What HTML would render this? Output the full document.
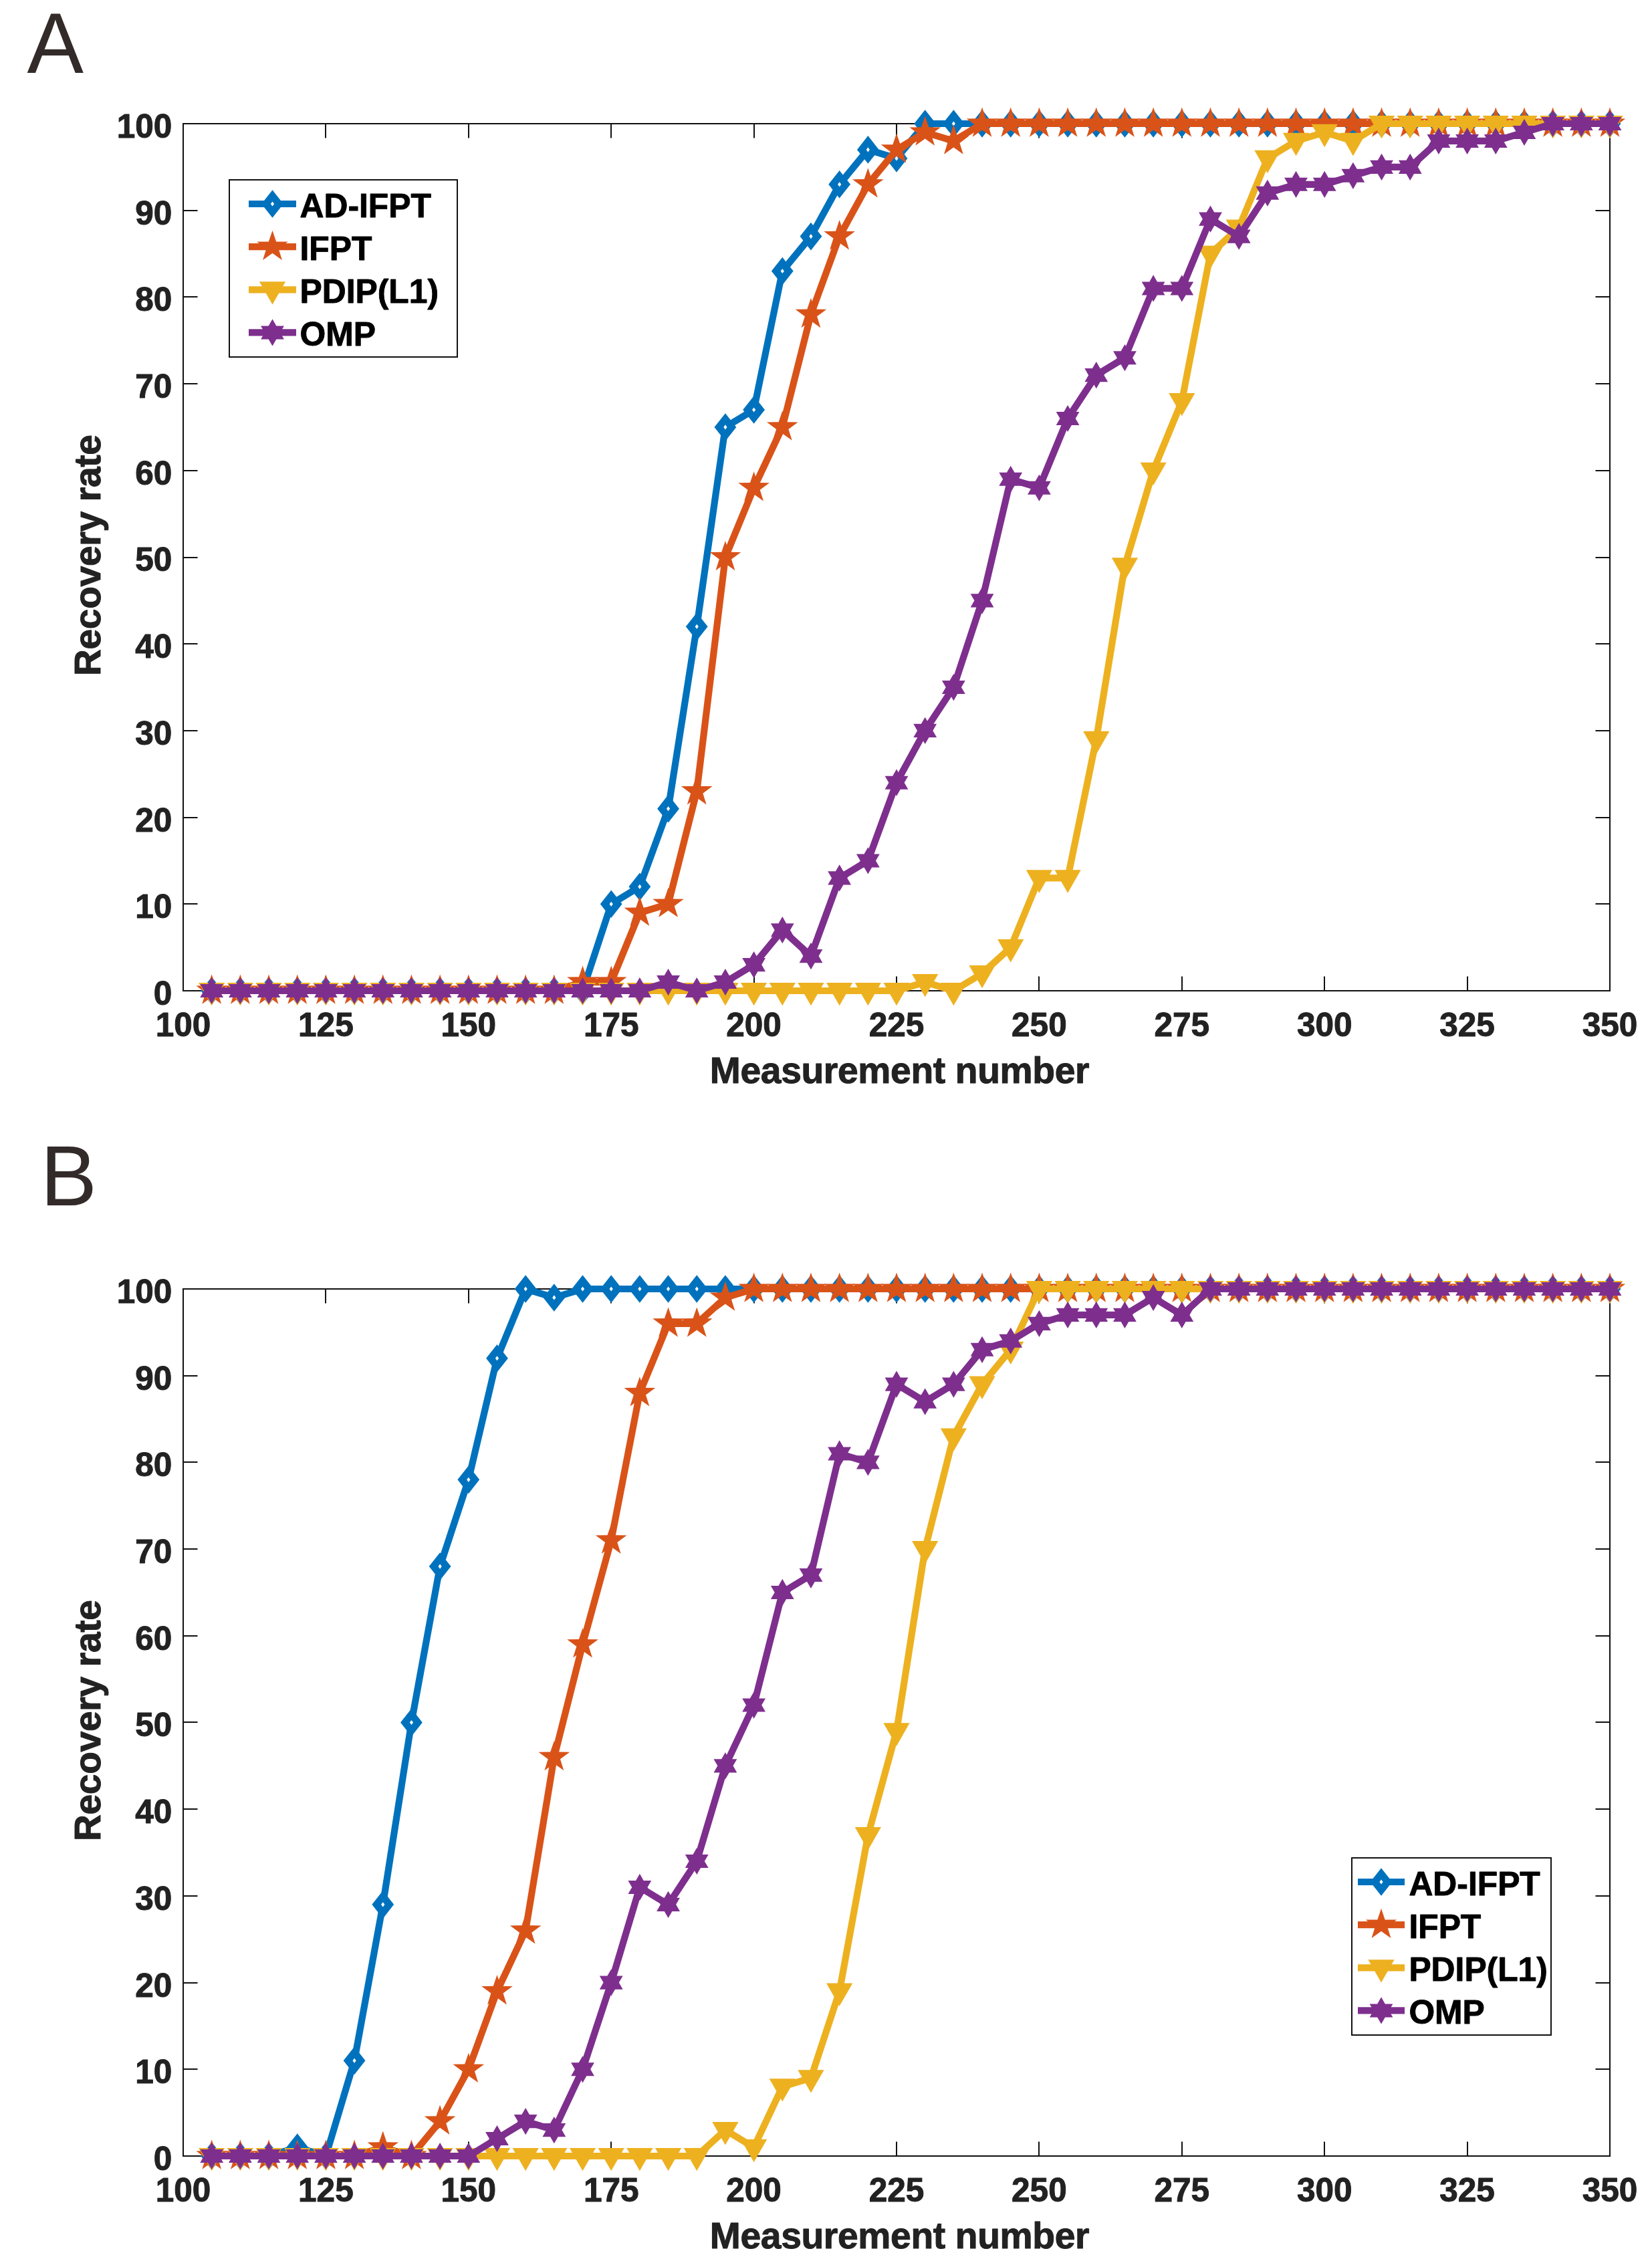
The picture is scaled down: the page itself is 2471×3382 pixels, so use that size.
<!DOCTYPE html>
<html lang="en"><head><meta charset="utf-8"><title>Recovery rate vs measurement number</title>
<style>html,body{margin:0;padding:0;background:#fff}svg{display:block}text{font-family:"Liberation Sans",Arial,Helvetica,sans-serif}.t{font-weight:bold;font-size:49.5px;fill:#222222;stroke:#222222;stroke-width:1px;stroke-linejoin:round}.l{font-weight:bold;font-size:55.2px;letter-spacing:-0.34px;fill:#222222;stroke:#222222;stroke-width:1px;stroke-linejoin:round}.s{fill:none;stroke-width:10.2px;stroke-linejoin:miter;stroke-linecap:butt}.g{font-weight:bold;font-size:49.8px;fill:#000;stroke:#000;stroke-width:0.9px;stroke-linejoin:round}.p{font-size:128.7px;fill:#332b29}</style></head><body>
<svg width="2471" height="3382" viewBox="0 0 2471 3382">
<rect width="2471" height="3382" fill="#fff"/>
<defs>
<marker id="mb" markerUnits="userSpaceOnUse" markerWidth="60" markerHeight="60" viewBox="-30 -30 60 60" refX="0" refY="0" orient="0" overflow="visible"><path d="M0 -20.8 L16.4 0 L0 20.8 L-16.4 0 Z" fill="#0072BD"/><path d="M0 -3.6 L2.6 0 L0 3.6 L-2.6 0 Z" fill="#fff"/></marker>
<marker id="mo" markerUnits="userSpaceOnUse" markerWidth="60" markerHeight="60" viewBox="-30 -30 60 60" refX="0" refY="0" orient="0" overflow="visible"><path d="M0 -24.5L5.64 -7.77L23.3 -7.57L9.13 2.97L14.4 19.82L0 9.6L-14.4 19.82L-9.13 2.97L-23.3 -7.57L-5.64 -7.77Z" fill="#D95319"/></marker>
<marker id="my" markerUnits="userSpaceOnUse" markerWidth="60" markerHeight="60" viewBox="-30 -30 60 60" refX="0" refY="0" orient="0" overflow="visible"><path d="M-19.6 -12.1 L19.6 -12.1 L0 22.3 Z" fill="#EDB120"/></marker>
<marker id="mp" markerUnits="userSpaceOnUse" markerWidth="60" markerHeight="60" viewBox="-30 -30 60 60" refX="0" refY="0" orient="0" overflow="visible"><path d="M0 -20.1L5.8 -10.05L17.41 -10.05L11.6 0L17.41 10.05L5.8 10.05L0 20.1L-5.8 10.05L-17.41 10.05L-11.6 0L-17.41 -10.05L-5.8 -10.05Z" fill="#7E2F8E"/></marker>
</defs>
<text class="p" transform="translate(40.6 109) scale(0.985 1)">A</text>
<path d="M487 1482 v-21.5 M487 185 v21.5 M701 1482 v-21.5 M701 185 v21.5 M914 1482 v-21.5 M914 185 v21.5 M1128 1482 v-21.5 M1128 185 v21.5 M1341 1482 v-21.5 M1341 185 v21.5 M1554 1482 v-21.5 M1554 185 v21.5 M1768 1482 v-21.5 M1768 185 v21.5 M1981 1482 v-21.5 M1981 185 v21.5 M2195 1482 v-21.5 M2195 185 v21.5 M274 1352 h21.5 M2408 1352 h-21.5 M274 1223 h21.5 M2408 1223 h-21.5 M274 1093 h21.5 M2408 1093 h-21.5 M274 963 h21.5 M2408 963 h-21.5 M274 834 h21.5 M2408 834 h-21.5 M274 704 h21.5 M2408 704 h-21.5 M274 574 h21.5 M2408 574 h-21.5 M274 444 h21.5 M2408 444 h-21.5 M274 315 h21.5 M2408 315 h-21.5" stroke="#111111" stroke-width="2" fill="none"/>
<rect x="274" y="185" width="2134" height="1297" fill="none" stroke="#111111" stroke-width="2"/>
<text class="t" text-anchor="middle" x="274" y="1549.5">100</text>
<text class="t" text-anchor="middle" x="487.4" y="1549.5">125</text>
<text class="t" text-anchor="middle" x="700.8" y="1549.5">150</text>
<text class="t" text-anchor="middle" x="914.2" y="1549.5">175</text>
<text class="t" text-anchor="middle" x="1127.6" y="1549.5">200</text>
<text class="t" text-anchor="middle" x="1341" y="1549.5">225</text>
<text class="t" text-anchor="middle" x="1554.4" y="1549.5">250</text>
<text class="t" text-anchor="middle" x="1767.8" y="1549.5">275</text>
<text class="t" text-anchor="middle" x="1981.2" y="1549.5">300</text>
<text class="t" text-anchor="middle" x="2194.6" y="1549.5">325</text>
<text class="t" text-anchor="middle" x="2408" y="1549.5">350</text>
<text class="t" text-anchor="end" x="257.3" y="1502.9">0</text>
<text class="t" text-anchor="end" x="257.3" y="1373.2">10</text>
<text class="t" text-anchor="end" x="257.3" y="1243.5">20</text>
<text class="t" text-anchor="end" x="257.3" y="1113.8">30</text>
<text class="t" text-anchor="end" x="257.3" y="984.1">40</text>
<text class="t" text-anchor="end" x="257.3" y="854.4">50</text>
<text class="t" text-anchor="end" x="257.3" y="724.7">60</text>
<text class="t" text-anchor="end" x="257.3" y="595">70</text>
<text class="t" text-anchor="end" x="257.3" y="465.3">80</text>
<text class="t" text-anchor="end" x="257.3" y="335.6">90</text>
<text class="t" text-anchor="end" x="257.3" y="205.9">100</text>
<text class="l" text-anchor="middle" x="1345.5" y="1619.6">Measurement number</text>
<text class="l" text-anchor="middle" transform="translate(150.4 830.7) rotate(-90)">Recovery rate</text>
<polyline class="s" points="316.68,1482 359.36,1482 402.04,1482 444.72,1482 487.4,1482 530.08,1482 572.76,1482 615.44,1482 658.12,1482 700.8,1482 743.48,1482 786.16,1482 828.84,1482 871.52,1482 914.2,1352.3 956.88,1326.36 999.56,1209.63 1042.24,937.26 1084.92,638.95 1127.6,613.01 1170.28,405.49 1212.96,353.61 1255.64,275.79 1298.32,223.91 1341,236.88 1383.68,185 1426.36,185 1469.04,185 1511.72,185 1554.4,185 1597.08,185 1639.76,185 1682.44,185 1725.12,185 1767.8,185 1810.48,185 1853.16,185 1895.84,185 1938.52,185 1981.2,185 2023.88,185 2066.56,185 2109.24,185 2151.92,185 2194.6,185 2237.28,185 2279.96,185 2322.64,185 2365.32,185 2408,185" stroke="#0072BD" marker-start="url(#mb)" marker-mid="url(#mb)" marker-end="url(#mb)"/>
<polyline class="s" points="316.68,1482 359.36,1482 402.04,1482 444.72,1482 487.4,1482 530.08,1482 572.76,1482 615.44,1482 658.12,1482 700.8,1482 743.48,1482 786.16,1482 828.84,1482 871.52,1469.03 914.2,1469.03 956.88,1365.27 999.56,1352.3 1042.24,1183.69 1084.92,833.5 1127.6,729.74 1170.28,638.95 1212.96,470.34 1255.64,353.61 1298.32,275.79 1341,223.91 1383.68,197.97 1426.36,210.94 1469.04,185 1511.72,185 1554.4,185 1597.08,185 1639.76,185 1682.44,185 1725.12,185 1767.8,185 1810.48,185 1853.16,185 1895.84,185 1938.52,185 1981.2,185 2023.88,185 2066.56,185 2109.24,185 2151.92,185 2194.6,185 2237.28,185 2279.96,185 2322.64,185 2365.32,185 2408,185" stroke="#D95319" marker-start="url(#mo)" marker-mid="url(#mo)" marker-end="url(#mo)"/>
<polyline class="s" points="316.68,1482 359.36,1482 402.04,1482 444.72,1482 487.4,1482 530.08,1482 572.76,1482 615.44,1482 658.12,1482 700.8,1482 743.48,1482 786.16,1482 828.84,1482 871.52,1482 914.2,1482 956.88,1482 999.56,1482 1042.24,1482 1084.92,1482 1127.6,1482 1170.28,1482 1212.96,1482 1255.64,1482 1298.32,1482 1341,1482 1383.68,1469.03 1426.36,1482 1469.04,1456.06 1511.72,1417.15 1554.4,1313.39 1597.08,1313.39 1639.76,1105.87 1682.44,846.47 1725.12,703.8 1767.8,600.04 1810.48,379.55 1853.16,340.64 1895.84,236.88 1938.52,210.94 1981.2,197.97 2023.88,210.94 2066.56,185 2109.24,185 2151.92,185 2194.6,185 2237.28,185 2279.96,185 2322.64,185 2365.32,185 2408,185" stroke="#EDB120" marker-start="url(#my)" marker-mid="url(#my)" marker-end="url(#my)"/>
<polyline class="s" points="316.68,1482 359.36,1482 402.04,1482 444.72,1482 487.4,1482 530.08,1482 572.76,1482 615.44,1482 658.12,1482 700.8,1482 743.48,1482 786.16,1482 828.84,1482 871.52,1482 914.2,1482 956.88,1482 999.56,1469.03 1042.24,1482 1084.92,1469.03 1127.6,1443.09 1170.28,1391.21 1212.96,1430.12 1255.64,1313.39 1298.32,1287.45 1341,1170.72 1383.68,1092.9 1426.36,1028.05 1469.04,898.35 1511.72,716.77 1554.4,729.74 1597.08,625.98 1639.76,561.13 1682.44,535.19 1725.12,431.43 1767.8,431.43 1810.48,327.67 1853.16,353.61 1895.84,288.76 1938.52,275.79 1981.2,275.79 2023.88,262.82 2066.56,249.85 2109.24,249.85 2151.92,210.94 2194.6,210.94 2237.28,210.94 2279.96,197.97 2322.64,185 2365.32,185 2408,185" stroke="#7E2F8E" marker-start="url(#mp)" marker-mid="url(#mp)" marker-end="url(#mp)"/>
<rect x="343" y="269" width="341" height="265" fill="#fff" stroke="#111111" stroke-width="2"/>
<polyline class="s" points="372,305 407.5,305 443,305" stroke="#0072BD" marker-mid="url(#mb)"/>
<text class="g" x="448.5" y="324.9">AD-IFPT</text>
<polyline class="s" points="372,369.15 407.5,369.15 443,369.15" stroke="#D95319" marker-mid="url(#mo)"/>
<text class="g" x="448.5" y="389.05">IFPT</text>
<polyline class="s" points="372,433.3 407.5,433.3 443,433.3" stroke="#EDB120" marker-mid="url(#my)"/>
<text class="g" x="448.5" y="453.2">PDIP(L1)</text>
<polyline class="s" points="372,497.45 407.5,497.45 443,497.45" stroke="#7E2F8E" marker-mid="url(#mp)"/>
<text class="g" x="448.5" y="517.35">OMP</text>
<text class="p" transform="translate(60.4 1803.3) scale(0.985 1)">B</text>
<path d="M487 3225 v-21.5 M487 1928 v21.5 M701 3225 v-21.5 M701 1928 v21.5 M914 3225 v-21.5 M914 1928 v21.5 M1128 3225 v-21.5 M1128 1928 v21.5 M1341 3225 v-21.5 M1341 1928 v21.5 M1554 3225 v-21.5 M1554 1928 v21.5 M1768 3225 v-21.5 M1768 1928 v21.5 M1981 3225 v-21.5 M1981 1928 v21.5 M2195 3225 v-21.5 M2195 1928 v21.5 M274 3095 h21.5 M2408 3095 h-21.5 M274 2966 h21.5 M2408 2966 h-21.5 M274 2836 h21.5 M2408 2836 h-21.5 M274 2706 h21.5 M2408 2706 h-21.5 M274 2576 h21.5 M2408 2576 h-21.5 M274 2447 h21.5 M2408 2447 h-21.5 M274 2317 h21.5 M2408 2317 h-21.5 M274 2187 h21.5 M2408 2187 h-21.5 M274 2058 h21.5 M2408 2058 h-21.5" stroke="#111111" stroke-width="2" fill="none"/>
<rect x="274" y="1928" width="2134" height="1297" fill="none" stroke="#111111" stroke-width="2"/>
<text class="t" text-anchor="middle" x="274" y="3292.5">100</text>
<text class="t" text-anchor="middle" x="487.4" y="3292.5">125</text>
<text class="t" text-anchor="middle" x="700.8" y="3292.5">150</text>
<text class="t" text-anchor="middle" x="914.2" y="3292.5">175</text>
<text class="t" text-anchor="middle" x="1127.6" y="3292.5">200</text>
<text class="t" text-anchor="middle" x="1341" y="3292.5">225</text>
<text class="t" text-anchor="middle" x="1554.4" y="3292.5">250</text>
<text class="t" text-anchor="middle" x="1767.8" y="3292.5">275</text>
<text class="t" text-anchor="middle" x="1981.2" y="3292.5">300</text>
<text class="t" text-anchor="middle" x="2194.6" y="3292.5">325</text>
<text class="t" text-anchor="middle" x="2408" y="3292.5">350</text>
<text class="t" text-anchor="end" x="257.3" y="3245.9">0</text>
<text class="t" text-anchor="end" x="257.3" y="3116.2">10</text>
<text class="t" text-anchor="end" x="257.3" y="2986.5">20</text>
<text class="t" text-anchor="end" x="257.3" y="2856.8">30</text>
<text class="t" text-anchor="end" x="257.3" y="2727.1">40</text>
<text class="t" text-anchor="end" x="257.3" y="2597.4">50</text>
<text class="t" text-anchor="end" x="257.3" y="2467.7">60</text>
<text class="t" text-anchor="end" x="257.3" y="2338">70</text>
<text class="t" text-anchor="end" x="257.3" y="2208.3">80</text>
<text class="t" text-anchor="end" x="257.3" y="2078.6">90</text>
<text class="t" text-anchor="end" x="257.3" y="1948.9">100</text>
<text class="l" text-anchor="middle" x="1345.5" y="3362.6">Measurement number</text>
<text class="l" text-anchor="middle" transform="translate(150.4 2573.7) rotate(-90)">Recovery rate</text>
<polyline class="s" points="316.68,3225 359.36,3225 402.04,3225 444.72,3212.03 487.4,3225 530.08,3082.33 572.76,2848.87 615.44,2576.5 658.12,2343.04 700.8,2213.34 743.48,2031.76 786.16,1928 828.84,1940.97 871.52,1928 914.2,1928 956.88,1928 999.56,1928 1042.24,1928 1084.92,1928 1127.6,1928 1170.28,1928 1212.96,1928 1255.64,1928 1298.32,1928 1341,1928 1383.68,1928 1426.36,1928 1469.04,1928 1511.72,1928 1554.4,1928 1597.08,1928 1639.76,1928 1682.44,1928 1725.12,1928 1767.8,1928 1810.48,1928 1853.16,1928 1895.84,1928 1938.52,1928 1981.2,1928 2023.88,1928 2066.56,1928 2109.24,1928 2151.92,1928 2194.6,1928 2237.28,1928 2279.96,1928 2322.64,1928 2365.32,1928 2408,1928" stroke="#0072BD" marker-start="url(#mb)" marker-mid="url(#mb)" marker-end="url(#mb)"/>
<polyline class="s" points="316.68,3225 359.36,3225 402.04,3225 444.72,3225 487.4,3225 530.08,3225 572.76,3212.03 615.44,3225 658.12,3173.12 700.8,3095.3 743.48,2978.57 786.16,2887.78 828.84,2628.38 871.52,2459.77 914.2,2304.13 956.88,2083.64 999.56,1979.88 1042.24,1979.88 1084.92,1940.97 1127.6,1928 1170.28,1928 1212.96,1928 1255.64,1928 1298.32,1928 1341,1928 1383.68,1928 1426.36,1928 1469.04,1928 1511.72,1928 1554.4,1928 1597.08,1928 1639.76,1928 1682.44,1928 1725.12,1928 1767.8,1928 1810.48,1928 1853.16,1928 1895.84,1928 1938.52,1928 1981.2,1928 2023.88,1928 2066.56,1928 2109.24,1928 2151.92,1928 2194.6,1928 2237.28,1928 2279.96,1928 2322.64,1928 2365.32,1928 2408,1928" stroke="#D95319" marker-start="url(#mo)" marker-mid="url(#mo)" marker-end="url(#mo)"/>
<polyline class="s" points="316.68,3225 359.36,3225 402.04,3225 444.72,3225 487.4,3225 530.08,3225 572.76,3225 615.44,3225 658.12,3225 700.8,3225 743.48,3225 786.16,3225 828.84,3225 871.52,3225 914.2,3225 956.88,3225 999.56,3225 1042.24,3225 1084.92,3186.09 1127.6,3212.03 1170.28,3121.24 1212.96,3108.27 1255.64,2978.57 1298.32,2745.11 1341,2589.47 1383.68,2317.1 1426.36,2148.49 1469.04,2070.67 1511.72,2018.79 1554.4,1928 1597.08,1928 1639.76,1928 1682.44,1928 1725.12,1928 1767.8,1928 1810.48,1928 1853.16,1928 1895.84,1928 1938.52,1928 1981.2,1928 2023.88,1928 2066.56,1928 2109.24,1928 2151.92,1928 2194.6,1928 2237.28,1928 2279.96,1928 2322.64,1928 2365.32,1928 2408,1928" stroke="#EDB120" marker-start="url(#my)" marker-mid="url(#my)" marker-end="url(#my)"/>
<polyline class="s" points="316.68,3225 359.36,3225 402.04,3225 444.72,3225 487.4,3225 530.08,3225 572.76,3225 615.44,3225 658.12,3225 700.8,3225 743.48,3199.06 786.16,3173.12 828.84,3186.09 871.52,3095.3 914.2,2965.6 956.88,2822.93 999.56,2848.87 1042.24,2784.02 1084.92,2641.35 1127.6,2550.56 1170.28,2381.95 1212.96,2356.01 1255.64,2174.43 1298.32,2187.4 1341,2070.67 1383.68,2096.61 1426.36,2070.67 1469.04,2018.79 1511.72,2005.82 1554.4,1979.88 1597.08,1966.91 1639.76,1966.91 1682.44,1966.91 1725.12,1940.97 1767.8,1966.91 1810.48,1928 1853.16,1928 1895.84,1928 1938.52,1928 1981.2,1928 2023.88,1928 2066.56,1928 2109.24,1928 2151.92,1928 2194.6,1928 2237.28,1928 2279.96,1928 2322.64,1928 2365.32,1928 2408,1928" stroke="#7E2F8E" marker-start="url(#mp)" marker-mid="url(#mp)" marker-end="url(#mp)"/>
<rect x="2022" y="2779" width="298" height="265" fill="#fff" stroke="#111111" stroke-width="2"/>
<polyline class="s" points="2031,2815 2066,2815 2101,2815" stroke="#0072BD" marker-mid="url(#mb)"/>
<text class="g" x="2107.4" y="2834.9">AD-IFPT</text>
<polyline class="s" points="2031,2879.15 2066,2879.15 2101,2879.15" stroke="#D95319" marker-mid="url(#mo)"/>
<text class="g" x="2107.4" y="2899.05">IFPT</text>
<polyline class="s" points="2031,2943.3 2066,2943.3 2101,2943.3" stroke="#EDB120" marker-mid="url(#my)"/>
<text class="g" x="2107.4" y="2963.2">PDIP(L1)</text>
<polyline class="s" points="2031,3007.45 2066,3007.45 2101,3007.45" stroke="#7E2F8E" marker-mid="url(#mp)"/>
<text class="g" x="2107.4" y="3027.35">OMP</text>
</svg></body></html>
